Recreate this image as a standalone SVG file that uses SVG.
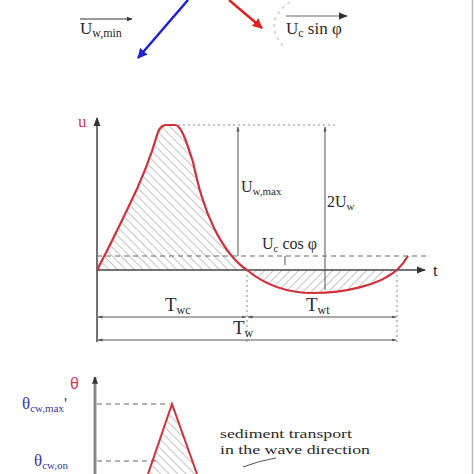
<svg xmlns="http://www.w3.org/2000/svg" width="474" height="474" viewBox="0 0 474 474">
<defs>
<style>
.t{font-family:"Liberation Serif","Times New Roman",serif;fill:#2a2a2a}
.ax{stroke:#444;stroke-width:1.5;fill:none}
.thin{stroke:#555;stroke-width:1;fill:none}
.dash{stroke:#666;stroke-width:1;stroke-dasharray:5 4;fill:none}
.dot{stroke:#888;stroke-width:1;stroke-dasharray:2 3;fill:none}
.curve{stroke:#d0303a;stroke-width:2.2;fill:none}
.blue{fill:#3a3aa0}
</style>
<marker id="ah" viewBox="0 0 10 10" refX="9" refY="5" markerWidth="6" markerHeight="6" orient="auto"><path d="M0,1 L10,5 L0,9 z" fill="#333"/></marker>
<marker id="ahk" viewBox="0 0 10 10" refX="9" refY="5" markerWidth="2.5" markerHeight="2.5" orient="auto"><path d="M0,1 L10,5 L0,9 z" fill="#333"/></marker>
<marker id="ahs" viewBox="0 0 10 10" refX="9" refY="5" markerWidth="5" markerHeight="5" orient="auto-start-reverse"><path d="M0,2 L10,5 L0,8 z" fill="#555"/></marker>
<marker id="ahb" viewBox="0 0 10 10" refX="9" refY="5" markerWidth="4" markerHeight="4" orient="auto"><path d="M0,0 L10,5 L0,10 z" fill="#2222cc"/></marker>
<marker id="ahr" viewBox="0 0 10 10" refX="9" refY="5" markerWidth="4" markerHeight="4" orient="auto"><path d="M0,0 L10,5 L0,10 z" fill="#dd2222"/></marker>
<pattern id="h1" patternUnits="userSpaceOnUse" width="6" height="6" patternTransform="rotate(-45)"><line x1="0" y1="0" x2="0" y2="6" stroke="#888" stroke-width="1"/></pattern>
<pattern id="h2" patternUnits="userSpaceOnUse" width="6" height="6" patternTransform="rotate(45)"><line x1="0" y1="0" x2="0" y2="6" stroke="#888" stroke-width="1"/></pattern>
</defs>
<rect width="474" height="474" fill="#fff"/>
<line x1="472.5" y1="0" x2="472.5" y2="474" stroke="#bbb" stroke-width="1.5"/>

<g id="top-vectors">
<line x1="188" y1="0" x2="138" y2="58" stroke="#2222cc" stroke-width="2.5" marker-end="url(#ahb)"/>
<line x1="229" y1="0" x2="262" y2="28" stroke="#dd2222" stroke-width="2.5" marker-end="url(#ahr)"/>
<path d="M290,2 Q262,22 283,46" stroke="#ccc" stroke-width="1.5" stroke-dasharray="3 4" fill="none"/>
<line x1="80" y1="19" x2="132" y2="19" stroke="#333" stroke-width="1" marker-end="url(#ah)"/>
<text class="t" x="80" y="34" font-size="17">U<tspan font-size="12" dy="3">w,min</tspan></text>
<line x1="286" y1="16" x2="347" y2="16" stroke="#999" stroke-width="1.5" marker-end="url(#ah)"/>
<text class="t" x="286" y="34" font-size="17">U<tspan font-size="12" dy="3">c</tspan><tspan dy="-3"> sin φ</tspan></text>
</g>

<g id="velocity-graph">
<path d="M97,270 C105,255 115,235 127,210 C137,190 150,160 158,132 C161,126 163,125 167,125 L175,125 C181,125 186,140 193,162 C198,185 203,205 214,228 C224,248 235,262 247,270 Z" fill="url(#h1)"/>
<path d="M247,270 C265,285 285,293 313,293 C345,293 380,285 397,270 Z" fill="url(#h2)"/>
<line x1="97" y1="342" x2="97" y2="118" class="ax" marker-end="url(#ah)"/>
<line x1="97" y1="270" x2="425" y2="270" class="ax" marker-end="url(#ah)"/>
<text x="78" y="127" font-family="Liberation Serif, serif" font-size="17" fill="#d04060">u</text>
<text class="t" x="433" y="276" font-size="17">t</text>
<line x1="97" y1="256" x2="428" y2="256" class="dash"/>
<line x1="178" y1="125" x2="335" y2="125" class="dot"/>
<line x1="238" y1="256" x2="238" y2="127" class="thin" marker-end="url(#ahs)"/>
<line x1="325" y1="290" x2="325" y2="127" class="thin" marker-end="url(#ahs)"/>
<line x1="285" y1="256" x2="285" y2="265" class="thin"/>
<text class="t" x="241" y="192" font-size="16">U<tspan font-size="11" dy="3">w,max</tspan></text>
<text class="t" x="327" y="207" font-size="16">2U<tspan font-size="11" dy="3">w</tspan></text>
<text class="t" x="262" y="249" font-size="16">U<tspan font-size="11" dy="3">c</tspan><tspan dy="-3"> cos φ</tspan></text>
<path d="M97,270 C105,255 115,235 127,210 C137,190 150,160 158,132 C161,126 163,125 167,125 L175,125 C181,125 186,140 193,162 C198,185 203,205 214,228 C224,248 235,262 247,270 C265,285 285,293 313,293 C345,293 380,285 397,270 C402,265 405,261 408,256" class="curve"/>
</g>

<g id="periods">
<line x1="247" y1="270" x2="247" y2="342" class="dot"/>
<line x1="397" y1="270" x2="397" y2="342" class="dot"/>
<text class="t" x="165" y="311" font-size="19">T<tspan font-size="12" dy="3">wc</tspan></text>
<text class="t" x="306" y="311" font-size="19">T<tspan font-size="12" dy="3">wt</tspan></text>
<line x1="98" y1="317" x2="246" y2="317" class="thin" marker-start="url(#ahs)" marker-end="url(#ahs)"/>
<line x1="248" y1="317" x2="396" y2="317" class="thin" marker-start="url(#ahs)" marker-end="url(#ahs)"/>
<text class="t" x="233" y="334" font-size="19">T<tspan font-size="12" dy="3">w</tspan></text>
<line x1="98" y1="340" x2="396" y2="340" class="thin" marker-start="url(#ahs)" marker-end="url(#ahs)"/>
</g>

<g id="shields-graph">
<path d="M172,404 L148,474 L197,474 Z" fill="url(#h1)"/>
<line x1="95" y1="474" x2="95" y2="377" stroke="#888" stroke-width="3" marker-end="url(#ahk)"/>
<text x="70" y="389" font-family="Liberation Sans, sans-serif" font-size="16" fill="#d04060">θ</text>
<text class="blue" x="22" y="409" font-family="Liberation Serif, serif" font-size="17">θ<tspan font-size="11" dy="3">cw,max</tspan><tspan dy="-3">'</tspan></text>
<text class="blue" x="34" y="466" font-family="Liberation Serif, serif" font-size="17">θ<tspan font-size="11" dy="3">cw,on</tspan></text>
<line x1="97" y1="404" x2="170" y2="404" class="dash" stroke="#555"/>
<line x1="97" y1="461" x2="160" y2="461" class="dash" stroke="#555"/>
<path d="M148,474 L172,404 L197,474" stroke="#d0303a" stroke-width="2" fill="none"/>
<text class="t" x="220" y="438" font-size="13.5" textLength="132" lengthAdjust="spacingAndGlyphs">sediment transport</text>
<text class="t" x="220" y="454" font-size="13.5" textLength="150" lengthAdjust="spacingAndGlyphs">in the wave direction</text>
<path d="M243,467 Q258,461 276,458" stroke="#555" stroke-width="1" fill="none"/>
</g>
</svg>
